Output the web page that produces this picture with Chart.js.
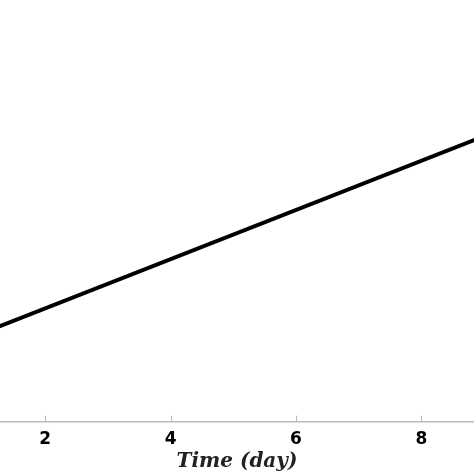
<!DOCTYPE html>
<html><head><meta charset="utf-8">
<script src="https://cdn.jsdelivr.net/npm/chart.js@4"></script>
<style>html,body{margin:0;padding:0;background:#fff}#wrap{width:474px;height:474px}</style>
</head><body><div id="wrap"><canvas id="c"></canvas></div>
<script>
const days = [1, 9];
const values = [0.210, 0.677];
const xTicks = [2, 4, 6, 8];

// small upward tick marks on the x axis, like the original figure
const innerTicks = {
  id: 'innerTicks',
  afterDraw(chart) {
    const ctx = chart.ctx, sx = chart.scales.x, y = chart.chartArea.bottom;
    ctx.save();
    ctx.strokeStyle = '#bbb';
    ctx.lineWidth = 1;
    xTicks.forEach(t => {
      const px = Math.round(sx.getPixelForValue(t)) + 0.5;
      ctx.beginPath(); ctx.moveTo(px, y); ctx.lineTo(px, y - 6); ctx.stroke();
    });
    ctx.restore();
  }
};

new Chart(document.getElementById('c'), {
  type: 'line',
  data: {
    datasets: [{
      data: days.map((d, i) => ({x: d, y: values[i]})),
      borderColor: '#000',
      borderWidth: 4,
      pointRadius: 0,
      tension: 0,
    }],
  },
  options: {
    responsive: true,
    maintainAspectRatio: false,
    animation: false,
    layout: {padding: 0},
    plugins: {legend: {display: false}, tooltip: {enabled: false}},
    scales: {
      x: {
        type: 'linear',
        min: 1.28,
        max: 8.84,
        afterBuildTicks: s => { s.ticks = xTicks.map(v => ({value: v})); },
        grid: {display: false},
        border: {color: '#bbb', width: 1.5},
        ticks: {color: '#000', font: {family: 'DejaVu Sans', size: 17, weight: 'bold'}, padding: 0, maxRotation: 0},
        title: {display: true, text: 'Time (day)', color: '#222',
                font: {family: 'DejaVu Serif', size: 20, style: 'italic', weight: 'bold'}, padding: {top: 0, bottom: 0}},
      },
      y: {display: false, min: 0, max: 1},
    },
  },
  plugins: [innerTicks],
});
</script></body></html>
